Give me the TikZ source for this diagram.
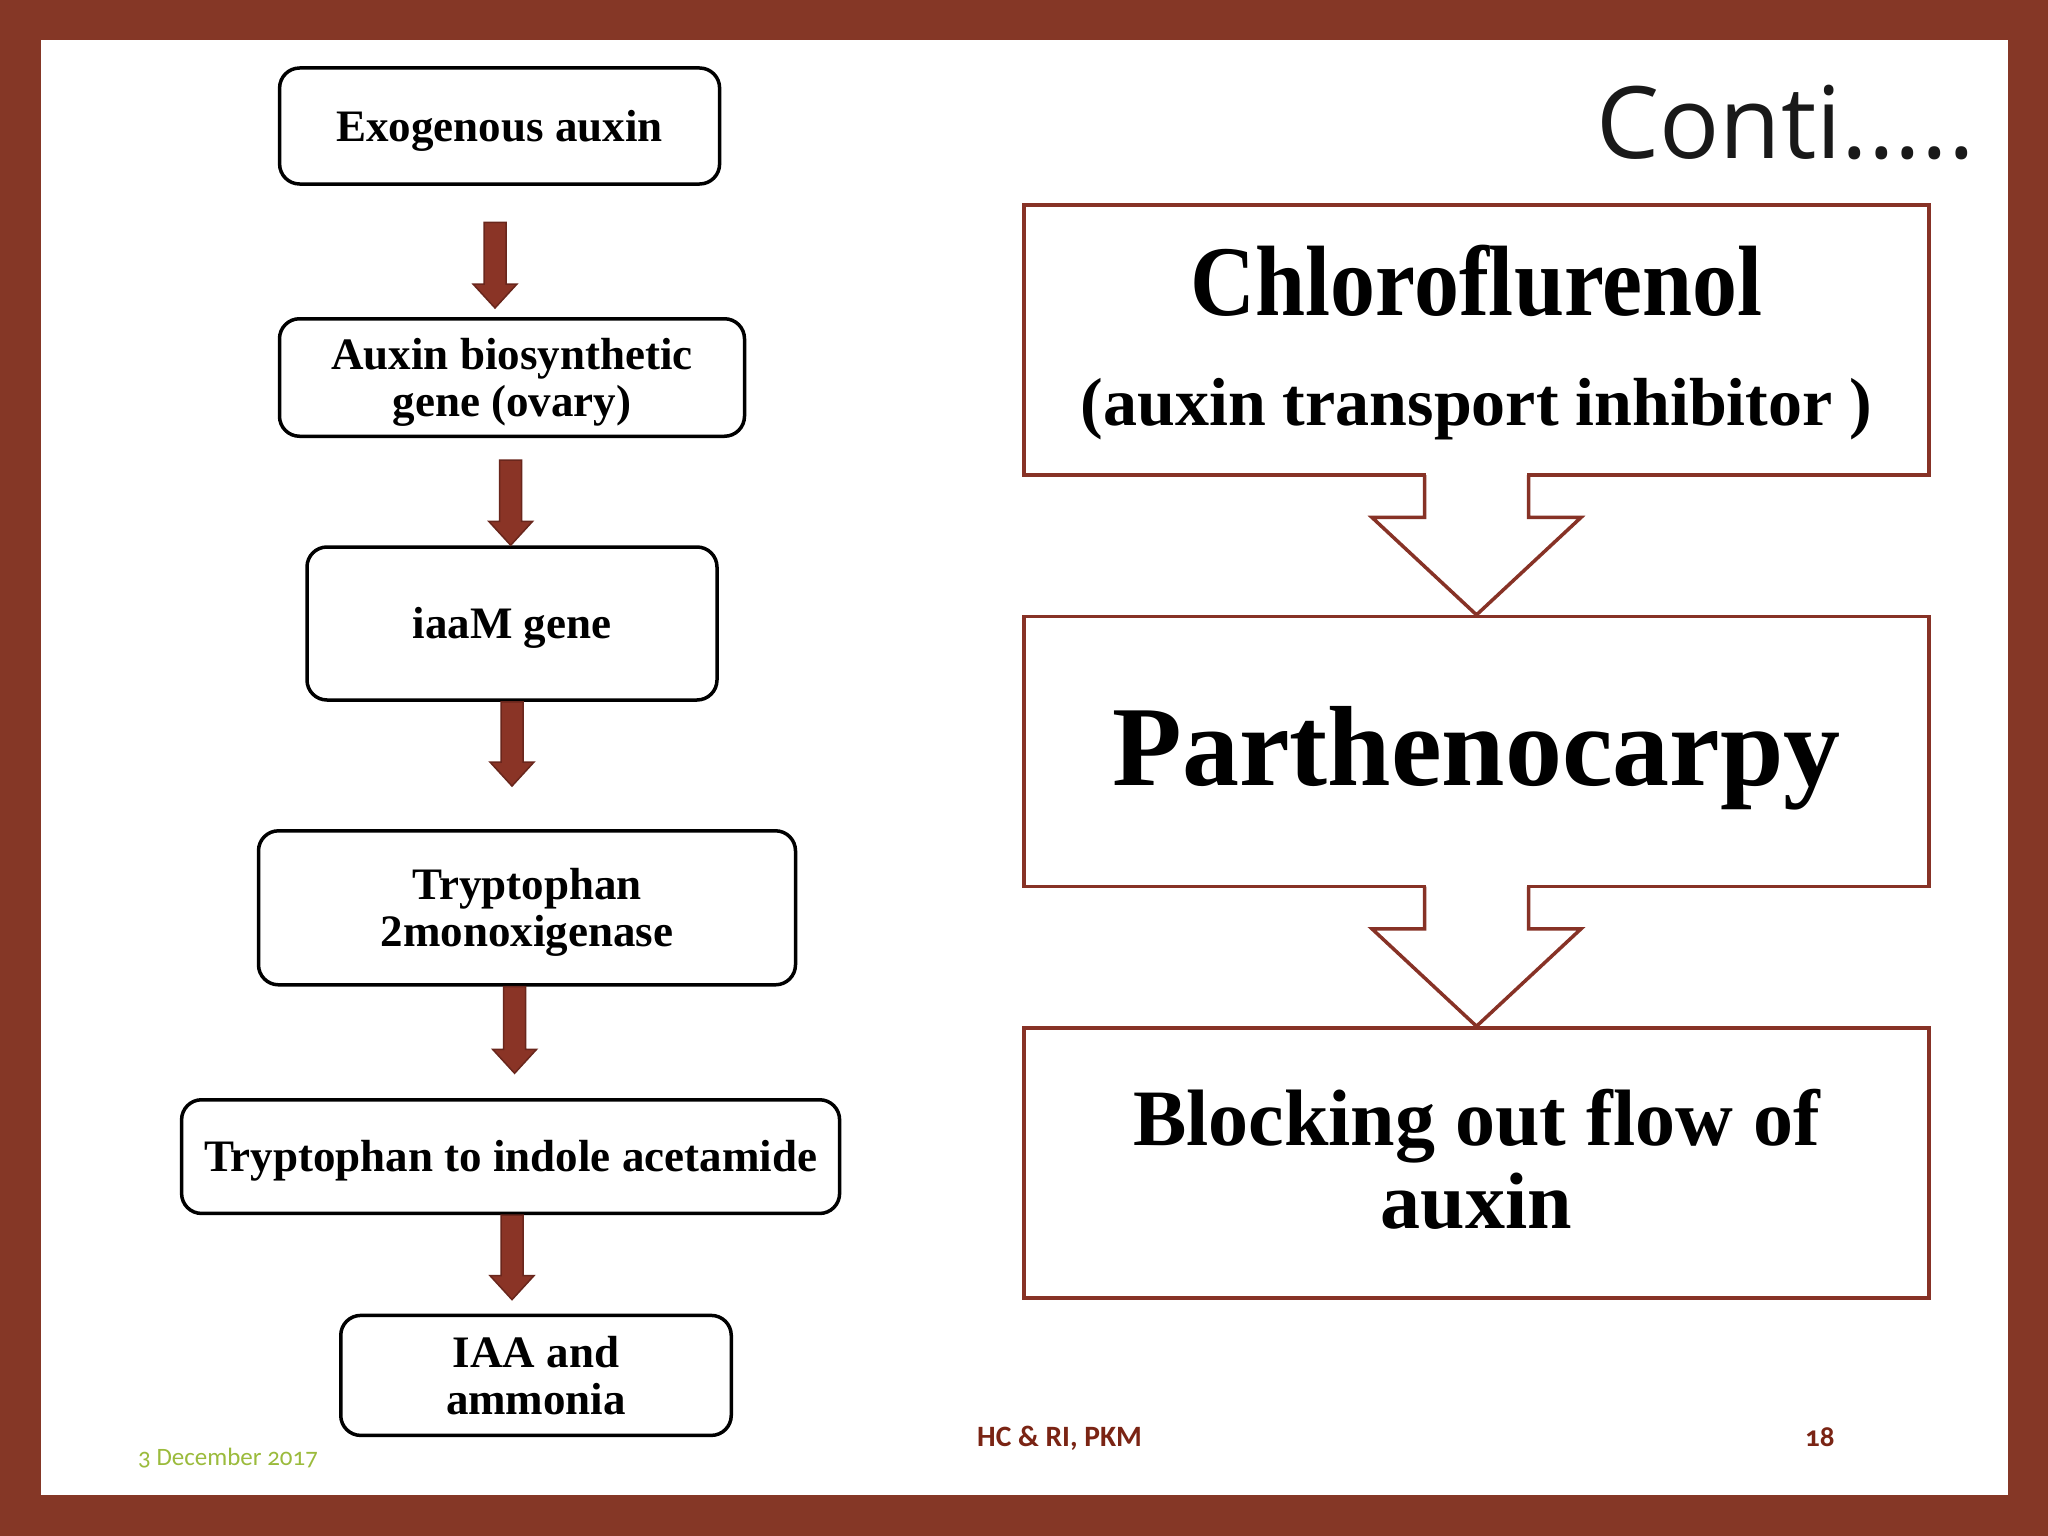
\documentclass[tikz,border=0pt]{standalone}
\usepackage{fontspec}
\setmainfont{Liberation Serif}
\newfontfamily\condserif[FakeStretch=0.9]{Liberation Serif}
\newfontfamily\footfont[Numbers=OldStyle]{Carlito}
\newfontfamily\titlefont{Open Sans}
\usetikzlibrary{calc}
\definecolor{frame}{RGB}{133,55,38}
\definecolor{arrowfill}{RGB}{138,52,38}
\definecolor{arrowedge}{RGB}{105,38,28}
\definecolor{rline}{RGB}{135,50,38}
\definecolor{dategreen}{RGB}{155,187,60}
\definecolor{footred}{RGB}{122,36,20}
\tikzset{
  lbox/.style={draw=black, line width=3.5pt, rounded corners=20pt, fill=white, align=center,
    inner sep=0pt, font=\bfseries\fontsize{45}{47}\selectfont},
  lowtext/.style={text height=40pt},
  lowtexttwo/.style={text height=87pt},
  rbox/.style={draw=rline, line width=3.5pt, fill=white, inner sep=0pt,
    minimum width=905pt, minimum height=270pt},
  barrow/.style={fill=arrowfill, draw=arrowedge, line width=1.5pt, line join=miter},
  hollow/.style={draw=rline, line width=3.5pt, line join=miter},
  rtxt/.style={anchor=base, inner sep=0pt, font=\bfseries}
}
\newcommand\blockarrow[2]{%
  \filldraw[barrow] let \p1=#1, \p2=#2 in
   (\x1-11pt,\y1) -- (\x1+11pt,\y1) -- (\x1+11pt,\y2+24pt) -- (\x1+22pt,\y2+24pt)
   -- (\x1,\y2) -- (\x1-22pt,\y2+24pt) -- (\x1-11pt,\y2+24pt) -- cycle;}
\newcommand\hollowarrow[2]{%
  \fill[white] let \p1=#1 in (\x1-50.2pt,\y1+3.5pt) rectangle (\x1+50.2pt,\y1-3.5pt);
  \draw[hollow] let \p1=#1, \p2=#2 in
   (\x1-52pt,\y1+1.75pt) -- (\x1-52pt,\y1-40.5pt) -- (\x1-104.5pt,\y1-40.5pt) -- (\x1,\y2)
   -- (\x1+104.5pt,\y1-40.5pt) -- (\x1+52pt,\y1-40.5pt) -- (\x1+52pt,\y1+1.75pt);}
\begin{document}
\begin{tikzpicture}[x=1pt,y=-1pt]
\useasboundingbox (0,0) rectangle (2048,1536);
\fill[frame] (0,0) rectangle (2048,1536);
\fill[white] (41,40) rectangle (2008,1495);

% left flow
\node[lbox, lowtext, minimum width=440pt, minimum height=116pt] (b1) at (499.6,126) {Exogenous auxin};
\node[lbox, lowtexttwo, minimum width=465pt, minimum height=117.5pt] (b2) at (512,377.5) {Auxin biosynthetic\\gene (ovary)};
\node[lbox, lowtext, minimum width=410pt, minimum height=153pt] (b3) at (512,623.5) {iaaM gene};
\node[lbox, lowtexttwo, minimum width=537pt, minimum height=154pt] (b4) at (527,907.8) {Tryptophan\\2monoxigenase};
\node[lbox, lowtext, minimum width=658pt, minimum height=113.7pt] (b5) at (510.6,1156.6) {Tryptophan to indole acetamide};
\node[lbox, minimum width=390.5pt, minimum height=120pt] (b6) at (536,1375.4) {IAA and\\ammonia};

\blockarrow{([xshift=-4.6pt,yshift=-36.5pt]b1.south)}{([yshift=9pt]b2.north)}
\blockarrow{([xshift=-1.3pt,yshift=-22pt]b2.south)}{(b3.north)}
\blockarrow{(b3.south)}{([yshift=43pt]b4.north)}
\blockarrow{([xshift=-12.4pt]b4.south)}{([yshift=24.7pt]b5.north)}
\blockarrow{([xshift=1.4pt]b5.south)}{([yshift=14pt]b6.north)}

% right flow
\node[rbox] (rA) at (1476.5,340.2) {};
\node[rbox] (rB) at (1476.5,751.6) {};
\node[rbox] (rC) at (1476.5,1163) {};
\hollowarrow{(rA.south)}{(rB.north)}
\hollowarrow{(rB.south)}{(rC.north)}

\node[rtxt, font=\condserif\bfseries\fontsize{100}{100}\selectfont] (t1) at ($(rA.north)+(0,112)$) {Chloroflurenol};
\node[rtxt, font=\bfseries\fontsize{68}{68}\selectfont] (t2) at ($(rA.north)+(0,222)$) {(auxin transport inhibitor )};
\node[rtxt, font=\bfseries\fontsize{114}{114}\selectfont] (t3) at ($(rB.north)+(0,171)$) {Parthenocarpy};
\node[rtxt, font=\bfseries\fontsize{80}{80}\selectfont] (t4) at ($(rC.north)+(0,119)$) {Blocking out flow of};
\node[rtxt, font=\bfseries\fontsize{80}{80}\selectfont] (t5) at ($(rC.north)+(0,202)$) {auxin};

% title and footer
\node[anchor=base west, inner sep=0pt, font=\titlefont\fontsize{100}{100}\selectfont, text=black!90] (title) at (1596,159) {Conti.....};
\node[anchor=base west, inner sep=0pt, text=dategreen, font=\footfont\fontsize{25}{25}\selectfont] (date) at (138,1465) {3 December 2017};
\node[anchor=base west, inner sep=0pt, text=footred, font=\footfont\bfseries\fontsize{29.5}{29.5}\selectfont] (org) at (977,1446) {HC \& RI, PKM};
\node[anchor=base west, inner sep=0pt, text=footred, font=\footfont\bfseries\fontsize{29}{29}\selectfont] (page) at (1805,1446) {18};
\end{tikzpicture}
\end{document}
